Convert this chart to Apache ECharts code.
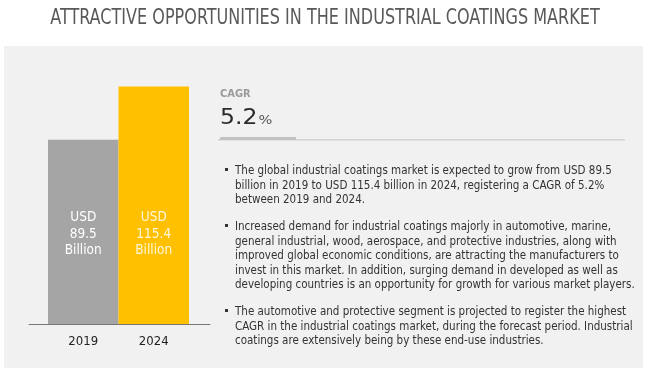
<!DOCTYPE html>
<html>
<head>
<meta charset="utf-8">
<script src="https://cdn.jsdelivr.net/npm/echarts@6/dist/echarts.min.js"></script>
<style>
  html, body { margin: 0; padding: 0; background: #fff; }
  #chart { width: 650px; height: 376px; }
</style>
</head>
<body>
<div id="chart"></div>
<script>
// 数据
const years = ["2019", "2024"];
const marketSize = [89.5, 115.4]; // USD Billion
const cagrValue = "5.2";
const bullets = [
  [
    "The global industrial coatings market is expected to grow from USD 89.5",
    "billion in 2019 to USD 115.4 billion in 2024, registering a CAGR of 5.2%",
    "between 2019 and 2024."
  ],
  [
    "Increased demand for industrial coatings majorly in automotive, marine,",
    "general industrial, wood, aerospace, and protective industries, along with",
    "improved global economic conditions, are attracting the manufacturers to",
    "invest in this market. In addition, surging demand in developed as well as",
    "developing countries is an opportunity for growth for various market players."
  ],
  [
    "The automotive and protective segment is projected to register the highest",
    "CAGR in the industrial coatings market, during the forecast period. Industrial",
    "coatings are extensively being by these end-use industries."
  ]
];

const FONT = "'Liberation Sans Narrow', 'DejaVu Sans Condensed', sans-serif";
const barColors = ["#a5a5a5", "#ffc000"];
const labelColors = ["#ffffff", "#fff6d8"];

let chart = echarts.init(document.getElementById("chart"));

// 右侧文字
const textGraphics = [];
const paraTop = [164, 220, 305];
bullets.forEach((lines, i) => {
  textGraphics.push({
    type: "rect",
    shape: { x: 225, y: paraTop[i] + 4, width: 3, height: 3 },
    style: { fill: "#333" }
  });
  textGraphics.push({
    type: "text",
    left: 235,
    top: paraTop[i],
    style: {
      text: lines.join("\n"),
      font: "11.5px " + FONT,
      fill: "#333",
      lineHeight: 14.5
    }
  });
});

let option = {
  backgroundColor: "#ffffff",
  animation: false,
  graphic: [
    {
      type: "rect",
      z: -10,
      shape: { x: 4, y: 46, width: 639, height: 322 },
      style: { fill: "#f1f1f1" }
    },
    // 标题（横向压缩）
    {
      type: "text",
      x: 325,
      y: 8,
      scaleX: 0.85,
      style: {
        x: 0,
        y: 0,
        text: "ATTRACTIVE OPPORTUNITIES IN THE INDUSTRIAL COATINGS MARKET",
        font: "21px " + FONT,
        fill: "#595959",
        align: "center",
        verticalAlign: "top"
      }
    },
    {
      type: "text",
      left: 220,
      top: 89,
      style: { text: "CAGR", font: "bold 11px " + FONT, fill: "#9a9a9a" }
    },
    {
      type: "text",
      x: 220,
      y: 108,
      scaleX: 1.12,
      style: {
        x: 0,
        y: 0,
        text: "{v|" + cagrValue + "}{p|%}",
        verticalAlign: "top",
        rich: {
          v: { font: "21px 'DejaVu Sans', sans-serif", fill: "#2b2b2b" },
          p: { font: "13px 'DejaVu Sans', sans-serif", fill: "#555", padding: [5, 0, 0, 1] }
        }
      }
    },
    {
      type: "rect",
      shape: { x: 218, y: 139, width: 407, height: 1.5 },
      style: { fill: "#d3d3d3" }
    },
    {
      type: "rect",
      shape: { x: 220, y: 137, width: 76, height: 3 },
      style: { fill: "#c2c2c2" }
    },
    ...textGraphics
  ],
  grid: [
    { left: 48, width: 141, top: 77, bottom: 52 },
    { left: 29, width: 181, top: 77, bottom: 52 }
  ],
  xAxis: [
    {
      type: "category",
      gridIndex: 0,
      data: years,
      axisLine: { show: false },
      axisTick: { show: false },
      axisLabel: {
        margin: 11,
        fontFamily: FONT,
        fontSize: 13,
        color: "#222"
      }
    },
    {
      type: "category",
      gridIndex: 1,
      data: [""],
      axisLine: { lineStyle: { color: "#777", width: 1 } },
      axisTick: { show: false },
      axisLabel: { show: false }
    }
  ],
  yAxis: [
    { type: "value", gridIndex: 0, min: 0, max: 120, show: false },
    { type: "value", gridIndex: 1, min: 0, max: 120, show: false }
  ],
  series: [
    {
      type: "bar",
      xAxisIndex: 0,
      yAxisIndex: 0,
      barCategoryGap: 0,
      data: marketSize.map((v, i) => ({
        value: v,
        itemStyle: { color: barColors[i] },
        label: { color: labelColors[i] }
      })),
      label: {
        show: true,
        position: "insideBottom",
        distance: 65,
        formatter: (p) => "USD\n" + p.value.toFixed(1) + "\nBillion",
        fontFamily: FONT,
        fontSize: 13.5,
        lineHeight: 16.5,
        align: "center"
      }
    }
  ]
};
chart.setOption(option);
</script>
</body>
</html>
